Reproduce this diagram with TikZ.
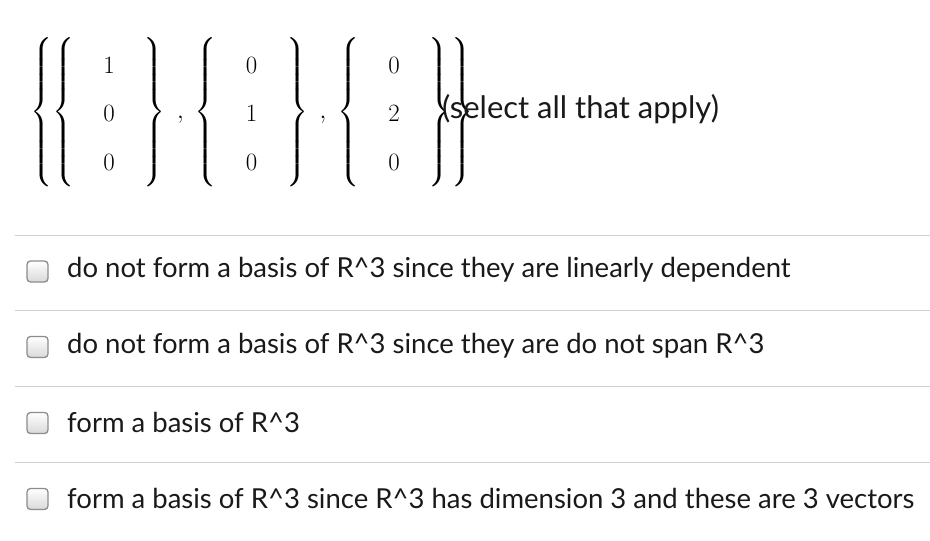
\documentclass[tikz,border=0pt]{standalone}
\usepackage{amsmath}
\usepackage{fontspec}
\newfontfamily\lato{Lato}
\newcommand{\myvec}[3]{\left\{\quad\begin{matrix}#1\\#2\\#3\end{matrix}\quad\right\}}
\tikzset{
  cb/.style={draw=black!45, line width=1.3pt, rounded corners=3.5pt, top color=white, bottom color=black!15, minimum size=21pt, inner sep=0pt},
  opt/.style={font=\lato\fontsize{27.5}{32}\selectfont, anchor=west, inner sep=0pt, text=black!90},
  sep/.style={draw=black!18, line width=1pt}
}
\begin{document}
\begin{tikzpicture}[x=1pt,y=-1pt]
\useasboundingbox (0,0) rectangle (930,541);
\node[anchor=west, inner sep=0pt, font=\fontsize{29}{36}\selectfont] (set) at (30,112)
 {\renewcommand{\arraystretch}{1.35}$\left\{\myvec{1}{0}{0}\;,\;\myvec{0}{1}{0}\;,\;\myvec{0}{2}{0}\right\}$};
\node[opt, font=\lato\fontsize{31}{36}\selectfont] (sel) at (442,109) {(select all that apply)};
\foreach \y in {235,310,386,462} \draw[sep] (15,\y) -- (930,\y);
\node[cb] (c1) at (37.5,271.5) {};
\node[cb] (c2) at (37.5,347) {};
\node[cb] (c3) at (37.5,423) {};
\node[cb] (c4) at (37.5,499) {};
\node[opt] (t1) at (67,270) {do not form a basis of R\^{}3 since they are linearly dependent};
\node[opt] (t2) at (67,346) {do not form a basis of R\^{}3 since they are do not span R\^{}3};
\node[opt] (t3) at (67,422) {form a basis of R\^{}3};
\node[opt] (t4) at (67,498) {form a basis of R\^{}3 since R\^{}3 has dimension 3 and these are 3 vectors};
\end{tikzpicture}
\end{document}
